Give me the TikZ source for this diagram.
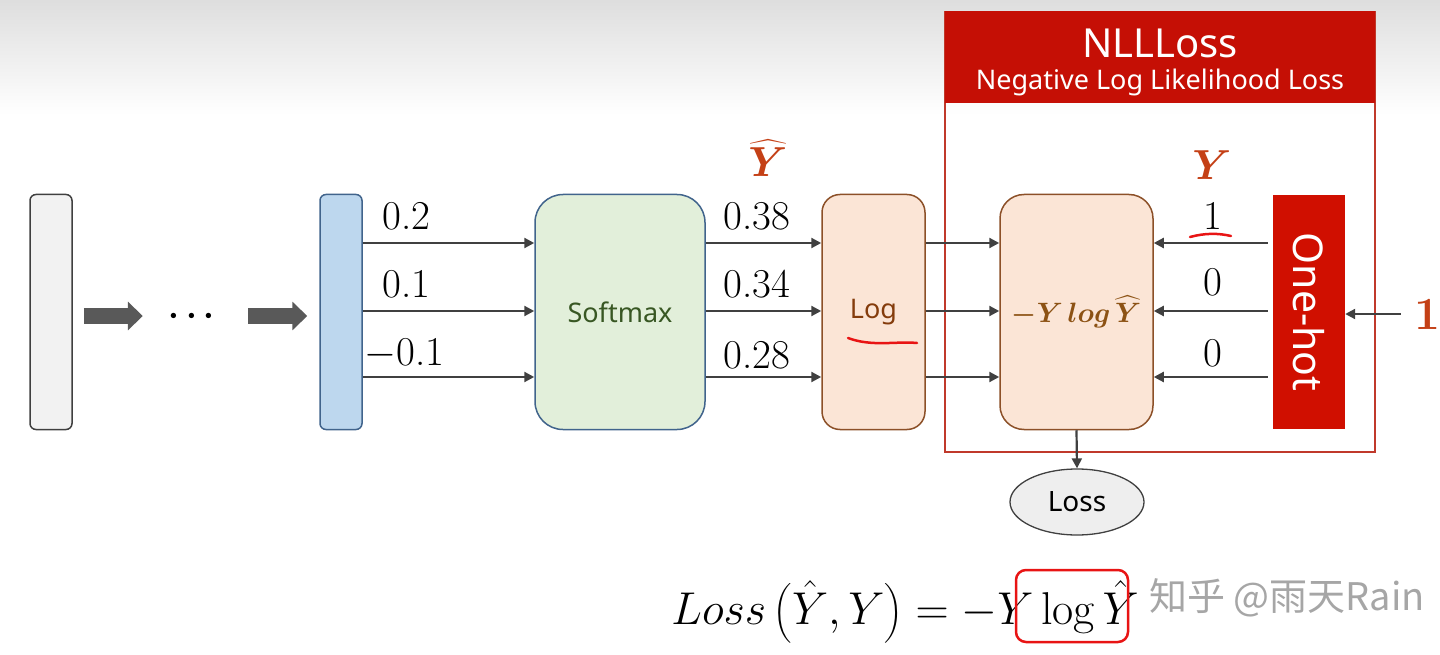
\RequirePackage{fix-cm}
\documentclass[tikz,border=0pt]{standalone}
\usepackage{amsmath,bm}
\usepackage{fontspec}
\newfontfamily\uifont{Noto Sans}
\newfontfamily\cjkfont{Noto Sans CJK SC}
\usetikzlibrary{arrows.meta,positioning,shapes.geometric,calc}
\definecolor{bargray}{RGB}{64,64,64}
\definecolor{barfill}{RGB}{242,242,242}
\definecolor{bluedraw}{RGB}{65,100,140}
\definecolor{bluefill}{RGB}{189,215,238}
\definecolor{softfill}{RGB}{226,239,218}
\definecolor{softtext}{RGB}{56,87,35}
\definecolor{peachdraw}{RGB}{140,80,40}
\definecolor{peachfill}{RGB}{251,229,214}
\definecolor{logtext}{RGB}{132,60,12}
\definecolor{formtext}{RGB}{140,82,20}
\definecolor{framered}{RGB}{192,57,43}
\definecolor{headred}{RGB}{197,15,5}
\definecolor{hotred}{RGB}{208,15,0}
\definecolor{labred}{RGB}{196,64,22}
\definecolor{blockgray}{RGB}{89,89,89}
\definecolor{lossfill}{RGB}{238,238,238}
\definecolor{markred}{RGB}{232,20,20}

\begin{document}
\begin{tikzpicture}[x=1pt,y=-1pt,>={Triangle[length=10pt,width=10pt]},
  box/.style={draw, rounded corners=#1, line width=1.5pt, inner sep=0pt, minimum height=235},
  bar/.style={box=6, minimum width=42},
  num/.style={font=\fontsize{41}{46}\selectfont, inner sep=0pt, text=black},
  flow/.style={->, line width=2.2pt, bargray},
  block/.style={line width=16pt, draw=blockgray, -{Triangle[length=15pt,width=28pt]}},
  hatlbl/.style={text=labred, font=\fontsize{42}{46}\selectfont},
  redmark/.style={draw=markred, line width=2.5pt, line cap=round}]
\useasboundingbox (0,0) rectangle (1440,655);
\fill[top color=black!13, bottom color=white] (0,0) rectangle (1440,115);
\coordinate (r1) at (0,243);
\coordinate (r2) at (0,311);
\coordinate (r3) at (0,377);
% NLLLoss frame
\node[draw=framered, line width=2.5pt, minimum width=430, minimum height=440, inner sep=0] (nll) at (1160,232) {};
\node[fill=headred, minimum width=430, minimum height=92, inner sep=0, anchor=north] (head) at (nll.north) {};
\node[text=white, font=\uifont\fontsize{40}{44}\selectfont] (nllT) at (1160,43) {NLLLoss};
\node[text=white, font=\uifont\fontsize{27}{30}\selectfont] (nllS) at (1160,82) {Negative Log Likelihood Loss};
% network
\node[bar, draw=bargray, fill=barfill] (inp) at (51,312) {};
\node[font=\fontsize{34}{34}\selectfont, minimum width=80] (dots) at (195,316) {$\bm{\cdots}$};
\node[bar, draw=bluedraw, fill=bluefill] (feat) at (341,312) {};
\draw[block, shorten <=11pt, shorten >=12pt] (inp.east |- dots) -- (dots);
\draw[block, shorten <=13pt, shorten >=12pt] (dots) -- (feat.west |- dots);
\node[box=28, draw=bluedraw, fill=softfill, minimum width=170, text=softtext, font=\uifont\fontsize{27}{30}\selectfont] (soft) at (620,312) {Softmax};
\node[box=18, draw=peachdraw, fill=peachfill, minimum width=103, text=logtext, font=\uifont\fontsize{27}{30}\selectfont] (log) at (873.5,312) {Log};
\node[box=24, draw=peachdraw, fill=peachfill, minimum width=153, text=formtext, font=\fontsize{28}{32}\selectfont] (form) at (1076.5,312) {$\bm{-Y\,log\,\widehat{Y}}$};
\node[fill=hotred, minimum width=72, minimum height=233, inner sep=0] (hot) at (1309,312) {};
\node[rotate=-90, text=white, font=\uifont\fontsize{41}{44}\selectfont] (hotT) at (hot) {One-hot};
\node[hatlbl] (yhat) at (768,158) {$\bm{\widehat{Y}}$};
\node[hatlbl] (ylbl) at (1212,165) {$\bm{Y}$};
\node[text=labred, font=\fontsize{46}{50}\selectfont\bfseries] (one) at (1427,314) {1};
\foreach \r/\a/\b/\sa/\d in {r1/0.2/0.38/19/12, r2/0.1/0.34/19/12, r3/$-$0.1/0.28/1/7}{
  \path[flow]
  (feat.east |- \r) edge node[num, pos=0, anchor=south west, xshift=\sa pt, yshift=\d pt] {\a} (soft.west |- \r)
  (soft.east |- \r) edge node[num, pos=0, anchor=south west, xshift=17pt, yshift=\d pt] {\b} (log.west |- \r)
  (log.east |- \r) edge (form.west |- \r);
}
\foreach \r/\c/\d in {r1/1/12, r2/0/14, r3/0/9}
  \draw[flow, <-, shorten >=5pt] (form.east |- \r) -- node[num, above=\d pt] {\c} (hot.west |- \r);
\draw[flow, shorten <=10pt] (one) -- (hot.east |- one);
% loss
\node[ellipse, draw=bargray, fill=lossfill, line width=1.3pt, minimum width=134, minimum height=66, font=\uifont\fontsize{28}{30}\selectfont] (loss) at (1077,502) {Loss};
\draw[flow] (form.south) -- (loss.north);
\node[font=\fontsize{46}{50}\selectfont] (eq) at (905,612) {$Loss\left(\hat{Y},Y\right)=-Y\log\hat{Y}$};
\node[text=black!35, font=\cjkfont\fontsize{38}{42}\selectfont] (wm) at (1287,598) {知乎 @雨天Rain};
% hand marks
\draw[redmark] (848,338) .. controls (872,347) and (896,341) .. (917,343);
\draw[redmark] (1190,237) .. controls (1205,233) and (1218,233) .. (1231,236);
\draw[redmark, rounded corners=10] (1016,570) rectangle (1128,642);
\end{tikzpicture}
\end{document}
